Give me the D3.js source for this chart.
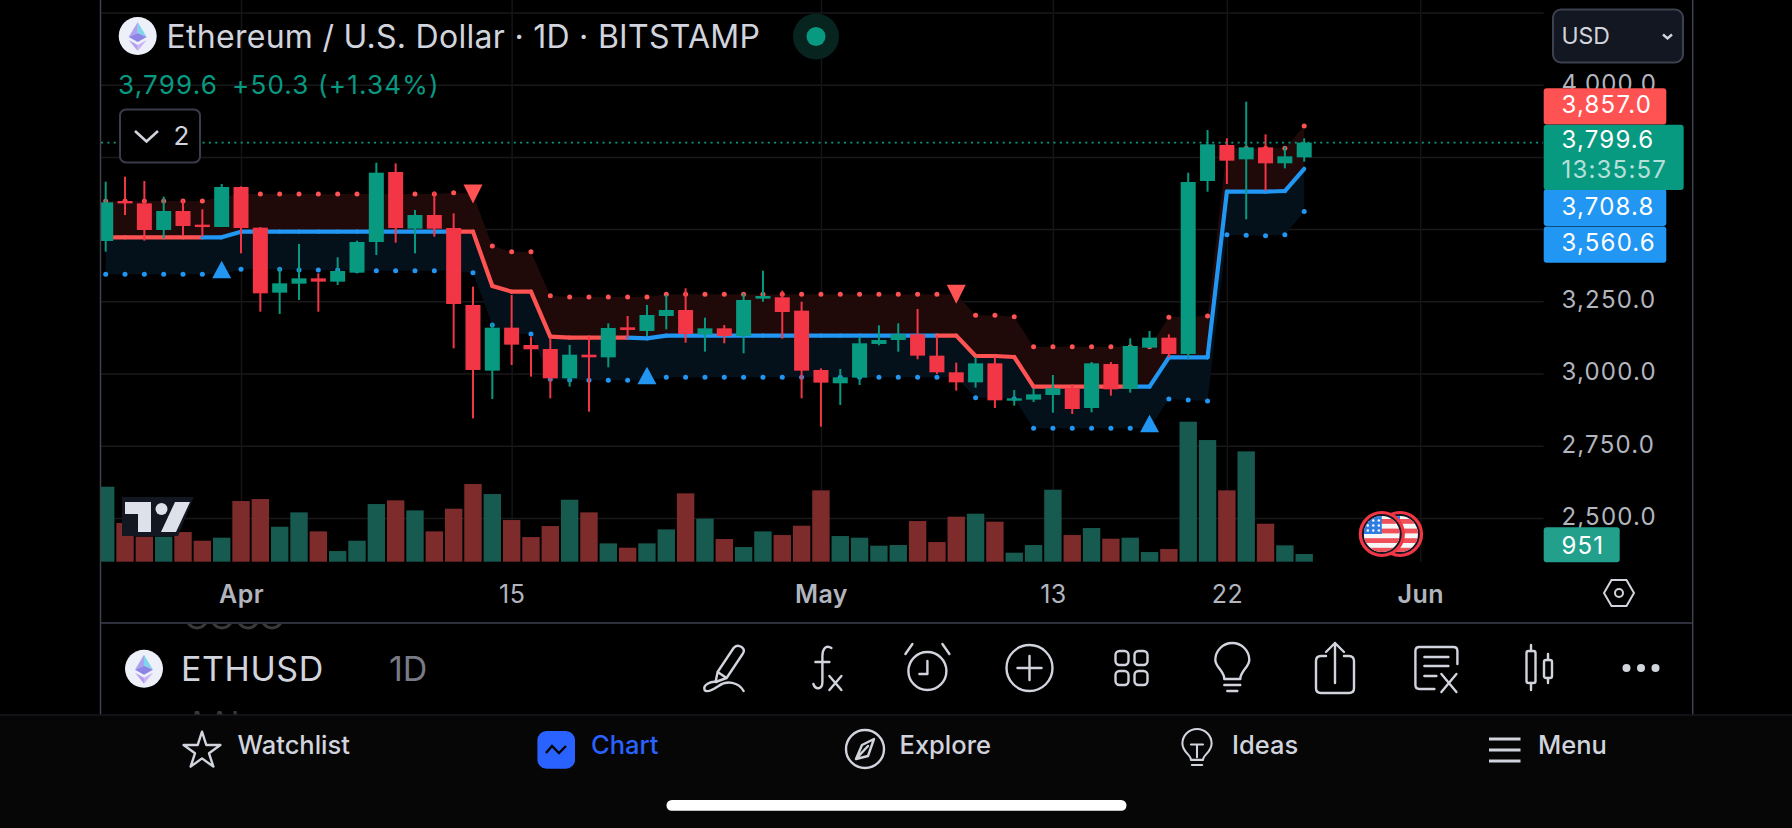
<!DOCTYPE html>
<html>
<head>
    <meta charset="utf-8">
    <style> body { margin: 0; background: #000; overflow: hidden; } text { font-family: Inter, sans-serif; } </style>
    <script src="https://d3js.org/d3.v7.min.js"></script>
</head>
<body>
<div id="chart"></div>
<script>
    // daily candles
    var opens = [3458.8,3597.3,3589.2,3496.9,3562.7,3515.4,3507.3,3645.8,3505,3279.9,3311,3329.5,3318,3349.2,3455.4,3697.7,3501.5,3548.8,3503.8,3237.2,3009.8,3158.7,3098.7,3084.9,2983.3,3065.2,3056,3159.9,3147.2,3199.1,3219.9,3134.5,3156.4,3129.9,3259.2,3263.8,3217.6,3012.2,2966,2985.6,3102.2,3116,3135.7,3061.8,3004.1,2969.4,3035.2,2907.1,2909.4,2925.6,2948.7,2880.6,3032.9,2946.4,3089.5,3124.1,3067.6,3666.5,3791.2,3741.5,3783.1,3727.7,3748.4];
    var highs = [3664.3,3681.6,3666.6,3612.3,3600.8,3568.5,3656.2,3648,3507.3,3366.5,3448.4,3346.9,3402.3,3460,3730,3727.7,3566.2,3629.6,3554.6,3300.7,3173.8,3271.9,3127.6,3121.8,3098.7,3127.6,3173.8,3199.1,3237.2,3271.9,3295,3193.4,3168,3277.6,3356.1,3286.9,3248.8,3017.9,3015.6,3127.6,3166.8,3173.8,3223.4,3131,3037.6,3056,3056,2942.9,2948.7,2994.9,2960.2,3039.9,3039.9,3121.8,3147.2,3135.7,3695.4,3843.1,3814.2,3941.2,3828.1,3785.4,3814.2];
    var lows = [3421.9,3548.8,3460,3466.9,3476.1,3473.8,3507,3416.1,3214.1,3206,3254.5,3214,3306.5,3346.9,3410.3,3453,3416,3473.8,3087.2,2844.8,2911.8,3029.5,2989.1,2914.1,2954.5,2867.9,3021.4,3121.8,3129.9,3153,3106.8,3075.6,3104.5,3069.9,3248.8,3120.7,2914.1,2815.9,2891,2960.2,3097.6,3075.6,3049.1,2998.3,2940.6,2951,2880.6,2888.7,2901.4,2864.4,2859.8,2865.6,2923.3,2933.7,3087.2,3056,3051.4,3629.6,3656.1,3533.8,3633,3710.4,3733.5];
    var closes = [3592.7,3592.7,3496.9,3562.7,3510.8,3509.6,3645.8,3503.8,3277.6,3312.2,3329.5,3318,3354.9,3455.4,3695.4,3503.8,3548.8,3501.5,3240.7,3012.2,3158.7,3099.9,3083.7,2983.3,3065.2,3056,3157.6,3150.7,3202.6,3219.9,3136.8,3156.4,3129.9,3254.5,3268.4,3213,3009.8,2968.3,2986.8,3104.5,3116,3135.7,3061.8,3004.1,2969.4,3035.2,2907.1,2914.1,2927.9,2948.7,2877.1,3035.2,2945.2,3095.3,3124.1,3067.6,3663,3793.5,3736.9,3783.1,3727.7,3751.9,3799.6];
    var volumes = [9263,4776,3088,3088,3664,2594,2964,7493,7740,4323,6093,3746,1317,2594,7122,7575,6340,3746,6546,9593,8357,5146,3047,4405,7658,6093,2264,1729,2264,3993,8440,5311,2800,1811,3746,3294,4446,8810,3170,2964,1976,2058,5023,2429,5558,5928,4940,1112,2058,8893,3294,4158,2841,2964,1194,1564,17291,15027,8810,13627,4693,2017,951];

    // indicator: middle line and the two dotted bands
    var basis = [3471.5,3471.5,3471.5,3471.5,3471.5,3471.5,3471.5,3491.1,3491.1,3491.1,3491.1,3491.1,3491.1,3491.1,3491.1,3491.1,3491.1,3491.1,3491.1,3491.1,3303,3283.4,3283.4,3127.6,3124.1,3124.1,3124.1,3124.1,3121.8,3131,3131,3131,3131,3131,3131,3131,3131,3131,3131,3131,3131,3131,3131,3131,3131,3060.6,3060.6,3057.2,2954.5,2954.5,2954.5,2954.5,2954.5,2954.5,2954.5,3056,3056,3056,3629.6,3629.6,3629.6,3631.9,3708.8];
    var upper = [3597.3,3597.3,3597.3,3597.3,3597.3,3597.3,3612,3621.5,3621.5,3621.5,3621.5,3621.5,3621.5,3621.5,3621.5,3621.5,3621.5,3621.5,3626,3621.5,3441.5,3421.9,3421.9,3269.6,3264.9,3264.9,3264.9,3264.9,3264.9,3274.2,3274.2,3274.2,3274.2,3274.2,3274.2,3274.2,3274.2,3274.2,3274.2,3274.2,3274.2,3274.2,3274.2,3274.2,3274.2,3201.4,3201.4,3196.8,3092.9,3092.9,3092.9,3092.9,3092.9,3092.9,3092.9,3194.5,3197,3199.1,3780,3780,3780,3780,3857];
    var lower = [3343.4,3343.4,3343.4,3343.4,3343.4,3343.4,3343.4,3360.7,3360.7,3360.7,3358.4,3358.4,3358.4,3356.1,3356.1,3356.1,3356.1,3356.1,3356.1,3349.2,3168,3136.8,3136.8,2979.9,2977.5,2976.4,2976.4,2976.4,2976.4,2986.8,2986.8,2986.8,2986.8,2986.8,2986.8,2986.8,2986.8,2986.8,2986.8,2986.8,2986.8,2986.8,2986.8,2986.8,2986.8,2916.4,2916.4,2912.9,2810.2,2810.2,2810.2,2810.2,2810.2,2810.2,2810.2,2911.7,2908.3,2904.8,3480.7,3478.4,3477.2,3480.7,3560.6];
    var downRanges = [[0,5],[19,27],[44,53]];
    var sellSignals = [19,44];
    var buySignals = [6,28,54];

    var xTickIndex = [7,21,37,49,58,68];
    var xTickLabels = ["Apr","15","May","13","22","Jun"];
    var yTicks = [4000,3250,3000,2750,2500];
    var gridTicks = [4250,4000,3750,3500,3250,3000,2750,2500];

    var W = 1792, H = 828;
    var green = "#089981", red = "#f23645", dotRed = "#ff5252", blue = "#2196f3", txt = "#d1d4dc";

    var svg = d3.select("#chart").append("svg")
        .attr("width", W)
        .attr("height", H)
        .style("display", "block");

    svg.append("rect").attr("width", W).attr("height", H).attr("fill", "#000");

    var defs = svg.append("defs");
    defs.append("clipPath").attr("id", "pane").append("rect")
        .attr("x", 101).attr("y", 0).attr("width", 1442.7).attr("height", 562);

    var x = d3.scaleLinear().domain([0, 62]).range([105.7, 1304.2]);
    var y = d3.scaleLinear().domain([2500, 4000]).range([517.9, 84.7]);
    var yVol = d3.scaleLinear().domain([0, d3.max(volumes)]).range([561.7, 421.7]);
    var idx = d3.range(closes.length);

    // grid
    var gy = svg.append("g")
        .attr("transform", "translate(100.5,0)")
        .call(d3.axisRight(y).tickValues(gridTicks).tickSize(1443).tickFormat(""));
    gy.select(".domain").remove();
    gy.selectAll("line").attr("stroke", "#19191b").attr("stroke-width", 1.5);

    var gx = svg.append("g")
        .attr("transform", "translate(0,562)")
        .call(d3.axisTop(x).tickValues(xTickIndex).tickSize(562).tickFormat(""));
    gx.select(".domain").remove();
    gx.selectAll("line").attr("stroke", "#151517").attr("stroke-width", 1.5);

    var plot = svg.append("g").attr("clip-path", "url(#pane)");

    // bands
    plot.append("path").datum(idx)
        .attr("fill", "#1f0909")
        .attr("d", d3.area().x(d => x(d)).y0(d => y(basis[d])).y1(d => y(upper[d])));
    plot.append("path").datum(idx)
        .attr("fill", "#04111b")
        .attr("d", d3.area().x(d => x(d)).y0(d => y(basis[d])).y1(d => y(lower[d])));

    // volume
    plot.append("g").selectAll("rect")
        .data(idx)
        .enter().append("rect")
        .attr("x", d => x(d) - 8.7)
        .attr("width", 17.4)
        .attr("y", d => yVol(volumes[d]))
        .attr("height", d => yVol(0) - yVol(volumes[d]))
        .attr("fill", d => closes[d] >= opens[d] ? "#165a50" : "#7e2b2c");

    // middle line, one colour per trend
    function isDown(i) {
        return downRanges.some(r => i >= r[0] && i <= r[1]);
    }
    plot.append("g").selectAll("line")
        .data(idx.slice(1))
        .enter().append("line")
        .attr("x1", d => x(d - 1))
        .attr("y1", d => y(basis[d - 1]))
        .attr("x2", d => x(d))
        .attr("y2", d => y(basis[d]))
        .attr("stroke", d => isDown(d) ? dotRed : blue)
        .attr("stroke-width", 4.2)
        .attr("stroke-linecap", "round");

    // band dots and signal triangles
    plot.append("g").selectAll("circle")
        .data(idx.filter(i => sellSignals.indexOf(i) < 0))
        .enter().append("circle")
        .attr("cx", d => x(d)).attr("cy", d => y(upper[d])).attr("r", 2.5).attr("fill", dotRed);
    plot.append("g").selectAll("circle")
        .data(idx.filter(i => buySignals.indexOf(i) < 0))
        .enter().append("circle")
        .attr("cx", d => x(d)).attr("cy", d => y(lower[d])).attr("r", 2.5).attr("fill", blue);

    plot.append("g").selectAll("path")
        .data(sellSignals)
        .enter().append("path")
        .attr("d", "M-9.5,-9.5H9.5L0,9.5Z")
        .attr("transform", d => `translate(${x(d)},${y(upper[d])})`)
        .attr("fill", dotRed);
    plot.append("g").selectAll("path")
        .data(buySignals)
        .enter().append("path")
        .attr("d", "M-9.5,4H9.5L0,-13.5Z")
        .attr("transform", d => `translate(${x(d)},${y(lower[d])})`)
        .attr("fill", blue);

    // candles
    var candle = plot.append("g").selectAll("g")
        .data(idx)
        .enter().append("g")
        .attr("fill", d => closes[d] >= opens[d] ? green : red)
        .attr("stroke", d => closes[d] >= opens[d] ? green : red);
    candle.append("line")
        .attr("x1", d => x(d)).attr("x2", d => x(d))
        .attr("y1", d => y(highs[d])).attr("y2", d => y(lows[d]))
        .attr("stroke-width", 2);
    candle.append("rect")
        .attr("stroke", "none")
        .attr("x", d => x(d) - 7.5)
        .attr("width", 15)
        .attr("y", d => y(Math.max(opens[d], closes[d])))
        .attr("height", d => Math.max(2.4, Math.abs(y(opens[d]) - y(closes[d]))));

    // last price line
    svg.append("line")
        .attr("x1", 101).attr("x2", 1543)
        .attr("y1", y(closes[62])).attr("y2", y(closes[62]))
        .attr("stroke", green).attr("stroke-width", 1.8).attr("stroke-dasharray", "2 4.35");

    // axes text
    var axY = svg.append("g")
        .attr("transform", "translate(1561.5,0)")
        .call(d3.axisRight(y).tickValues(yTicks).tickSize(0).tickPadding(0).tickFormat(d3.format(",.1f")));
    axY.select(".domain").remove();
    axY.selectAll("text")
        .attr("fill", "#b2b5be")
        .attr("dy", "0.27em")
        .style("font-size", "24px")
        .style("letter-spacing", "1.2px");

    var axX = svg.append("g")
        .attr("transform", "translate(0,594)")
        .call(d3.axisBottom(x).tickValues(xTickIndex).tickSize(0).tickPadding(0).tickFormat((d, i) => xTickLabels[i]));
    axX.select(".domain").remove();
    axX.selectAll("text")
        .attr("fill", "#b2b5be")
        .attr("dy", "0.35em")
        .style("font-size", "25px")
        .style("letter-spacing", "0.4px")
        .style("font-weight", (d, i) => isNaN(+xTickLabels[i]) ? 600 : 400);

    // price labels on the right
    function priceLabel(x0, x1, y0, y1, fill) {
        svg.append("rect")
            .attr("x", x0).attr("y", y0)
            .attr("width", x1 - x0).attr("height", y1 - y0)
            .attr("rx", 3).attr("fill", fill);
    }
    function labelText(str, cy, op) {
        svg.append("text")
            .attr("x", 1561.5).attr("y", cy).attr("dy", "0.35em")
            .attr("fill", "#fff").attr("opacity", op || 1)
            .style("font-size", "24px").style("letter-spacing", "1.2px")
            .text(str);
    }
    var lastFmt = d3.format(",.1f");
    priceLabel(1543.7, 1666.3, 88.3, 124.5, "#ff5252");
    labelText(lastFmt(upper[62]), 105);
    priceLabel(1543.7, 1666.3, 189, 226, blue);
    labelText(lastFmt(basis[62]), 207);
    priceLabel(1543.7, 1666.3, 226.5, 262.7, blue);
    labelText(lastFmt(lower[62]), 243);
    priceLabel(1543.7, 1683.7, 124.7, 190, green);
    labelText(lastFmt(closes[62]), 140);
    labelText("13:35:57", 170, 0.7);
    priceLabel(1543.7, 1619.7, 527.3, 562.3, "#22a08c");
    labelText(volumes[62], 546);

    // frame
    var frame = svg.append("g").attr("stroke", "#3d4150").attr("stroke-width", 1.5);
    frame.append("line").attr("x1", 100.5).attr("x2", 100.5).attr("y1", 0).attr("y2", 715);
    frame.append("line").attr("x1", 1692.7).attr("x2", 1692.7).attr("y1", 0).attr("y2", 715);
    frame.append("line").attr("x1", 100.5).attr("x2", 1692.7).attr("y1", 623).attr("y2", 623);

    // ethereum coin
    function ethIcon(cx, cy, r) {
        var g = svg.append("g").attr("transform", `translate(${cx},${cy}) scale(${r / 19})`);
        g.append("circle").attr("r", 19).attr("fill", "#eef0f9");
        g.append("path").attr("d", "M0,-14L9,1L0,-3Z").attr("fill", "#7fd6ea");
        g.append("path").attr("d", "M0,-14L-9,1L0,-3Z").attr("fill", "#a9a3ef");
        g.append("path").attr("d", "M-9,1L0,-3L9,1L0,6Z").attr("fill", "#8d84e6");
        g.append("path").attr("d", "M-9,4L0,9L0,15Z").attr("fill", "#b59df0");
        g.append("path").attr("d", "M9,4L0,9L0,15Z").attr("fill", "#c9b4f5");
    }

    // header
    ethIcon(137.7, 36, 19);
    svg.append("text").attr("x", 166.5).attr("y", 48)
        .attr("fill", txt).style("font-size", "32px").style("letter-spacing", "0.28px")
        .text("Ethereum / U.S. Dollar · 1D · BITSTAMP");
    svg.append("circle").attr("cx", 816).attr("cy", 36.5).attr("r", 23).attr("fill", "#07241f");
    svg.append("circle").attr("cx", 816).attr("cy", 36.5).attr("r", 9.5).attr("fill", green);
    svg.append("text").attr("x", 118).attr("y", 93.5)
        .attr("fill", green).style("font-size", "26px").style("letter-spacing", "1.2px")
        .text(lastFmt(closes[62]));
    svg.append("text").attr("x", 232).attr("y", 93.5)
        .attr("fill", green).style("font-size", "26px").style("letter-spacing", "1.2px")
        .text("+50.3 (+1.34%)");

    // collapsed indicators button
    svg.append("rect").attr("x", 120).attr("y", 109.5).attr("width", 80).attr("height", 53).attr("rx", 6)
        .attr("fill", "#000").attr("stroke", "#3a3d47").attr("stroke-width", 2);
    svg.append("path").attr("d", "M135,131L146.5,141.5L158,131").attr("fill", "none")
        .attr("stroke", txt).attr("stroke-width", 2.6);
    svg.append("text").attr("x", 181.5).attr("y", 136).attr("dy", "0.35em").attr("text-anchor", "middle")
        .attr("fill", txt).style("font-size", "26px").text("2");

    // currency button
    svg.append("rect").attr("x", 1553).attr("y", 9.5).attr("width", 130).attr("height", 53).attr("rx", 8)
        .attr("fill", "#131722").attr("stroke", "#3d414d").attr("stroke-width", 2);
    svg.append("text").attr("x", 1561.5).attr("y", 36).attr("dy", "0.35em")
        .attr("fill", txt).style("font-size", "23px").text("USD");
    svg.append("path").attr("d", "M1663,34.5L1667.5,38.5L1672,34.5").attr("fill", "none")
        .attr("stroke", txt).attr("stroke-width", 2.4);

    // tradingview mark
    var tv = svg.append("g");
    tv.append("path").attr("d", "M122,497H193.7L178,536H122Z").attr("fill", "#131722");
    tv.append("path").attr("d", "M125,502H151V532H138V514H125Z").attr("fill", "#dfe1ea");
    tv.append("circle").attr("cx", 161.5).attr("cy", 509).attr("r", 6).attr("fill", "#dfe1ea");
    tv.append("path").attr("d", "M175,502H190L176,532H161Z").attr("fill", "#dfe1ea");

    // economic event flags
    function flag(cx, cy) {
        var id = "f" + Math.round(cx);
        defs.append("clipPath").attr("id", id).append("circle").attr("cx", cx).attr("cy", cy).attr("r", 18);
        var g = svg.append("g");
        g.append("circle").attr("cx", cx).attr("cy", cy).attr("r", 21.5)
            .attr("fill", "#131722").attr("stroke", "#f23645").attr("stroke-width", 3.2);
        var f = g.append("g").attr("clip-path", `url(#${id})`);
        f.append("rect").attr("x", cx - 18).attr("y", cy - 18).attr("width", 36).attr("height", 36).attr("fill", "#f7f7f7");
        d3.range(4).forEach(function(i) {
            f.append("rect").attr("x", cx - 18).attr("y", cy - 15 + i * 9.6).attr("width", 36).attr("height", 4.8).attr("fill", "#f0505a");
        });
        f.append("rect").attr("x", cx - 18).attr("y", cy - 18).attr("width", 18).attr("height", 18).attr("fill", "#2f7de1");
        d3.range(9).forEach(function(i) {
            f.append("circle").attr("cx", cx - 14 + (i % 3) * 5.5).attr("cy", cy - 13.5 + Math.floor(i / 3) * 5)
                .attr("r", 1.2).attr("fill", "#fff");
        });
    }
    flag(1400, 534);
    flag(1381.8, 534);

    // settings
    var set = svg.append("g").attr("transform", "translate(1619,593)")
        .attr("fill", "none").attr("stroke", txt).attr("stroke-width", 2);
    set.append("path").attr("d", "M-15,0L-7.5,-13H7.5L15,0L7.5,13H-7.5Z");
    set.append("circle").attr("r", 4);

    // scrolled content peeking out behind the toolbar
    defs.append("clipPath").attr("id", "ghost1").append("rect").attr("x", 101).attr("y", 624).attr("width", 400).attr("height", 6);
    defs.append("clipPath").attr("id", "ghost2").append("rect").attr("x", 101).attr("y", 704).attr("width", 400).attr("height", 11);
    var ghost = svg.append("g").attr("clip-path", "url(#ghost1)")
        .attr("fill", "none").attr("stroke", "#3a3a3a").attr("stroke-width", 3);
    [197, 222, 248, 272].forEach(function(cx) {
        ghost.append("ellipse").attr("cx", cx).attr("cy", 614).attr("rx", 11.5).attr("ry", 14);
    });
    svg.append("text").attr("x", 186).attr("y", 735).attr("clip-path", "url(#ghost2)")
        .attr("fill", "#3a3a3a").style("font-size", "32px").text("AAL");

    // toolbar
    ethIcon(144, 668.7, 19);
    svg.append("text").attr("x", 181).attr("y", 681).attr("fill", txt)
        .style("font-size", "34px").style("letter-spacing", "0.6px").text("ETHUSD");
    svg.append("text").attr("x", 389).attr("y", 681).attr("fill", "#787b86")
        .style("font-size", "34px").text("1D");

    function icon(cx, cy, sw) {
        return svg.append("g").attr("transform", `translate(${cx},${cy})`)
            .attr("fill", "none").attr("stroke", txt).attr("stroke-width", sw || 2.4)
            .attr("stroke-linecap", "round").attr("stroke-linejoin", "round");
    }
    icon(724.6, 668).append("path")
        .attr("d", "M-9,14L-7,4L9,-20Q12,-24 17,-21Q21,-18 18,-14L2,10ZM-7,4L2,10M-8,14C-14,13 -22,17 -20,22C-18,25 -12,22 -6,18C2,12 14,14 19,23");
    icon(825.4, 668).append("path")
        .attr("d", "M6,-20C0,-24 -3,-18 -3,-12L-3,14C-3,22 -10,22 -12,16M-10,-6L4,-6M4,8L16,22M16,8L4,22");
    var alarm = icon(927.4, 668);
    alarm.append("circle").attr("cy", 3).attr("r", 19);
    alarm.append("path").attr("d", "M0,-7L0,6L-8,6M-22,-14L-15,-24M22,-14L15,-24");
    var plus = icon(1029.5, 668);
    plus.append("circle").attr("r", 23);
    plus.append("path").attr("d", "M-12,0H12M0,-12V12");
    var grid = icon(1131.5, 668);
    [[-16,-17],[3,-17],[-16,3],[3,3]].forEach(function(p) {
        grid.append("rect").attr("x", p[0]).attr("y", p[1]).attr("width", 13).attr("height", 14).attr("rx", 4);
    });
    icon(1232.3, 668).append("path")
        .attr("d", "M-8,11C-8,3 -17,-1 -17,-8A17,17 0 1 1 17,-8C17,-1 8,3 8,11ZM-8,17H8M-5,23H5");
    icon(1335, 668).append("path")
        .attr("d", "M-9,-12H-14Q-19,-12 -19,-7V20Q-19,25 -14,25H14Q19,25 19,20V-7Q19,-12 14,-12H9M0,15V-25M-9,-16L0,-25L9,-16");
    icon(1436.4, 668).append("path")
        .attr("d", "M21,-4V-17Q21,-21 17,-21H-17Q-21,-21 -21,-17V17Q-21,21 -17,21H-2M-12,-11H12M-12,-2H12M-12,8H0M5,6L20,24M20,6L5,24");
    var cs = icon(1541, 668);
    cs.append("rect").attr("x", -14.5).attr("y", -17).attr("width", 9).attr("height", 32).attr("rx", 2);
    cs.append("rect").attr("x", 3).attr("y", -8).attr("width", 8).attr("height", 18).attr("rx", 2);
    cs.append("path").attr("d", "M-10,-23V-17M-10,15V22M7,-14V-8M7,10V15");
    var dots = svg.append("g").attr("transform", "translate(1641,668)").attr("fill", txt);
    [-14.5, 0, 14.5].forEach(d => dots.append("circle").attr("cx", d).attr("r", 4));

    // bottom navigation
    svg.append("rect").attr("y", 715).attr("width", W).attr("height", H - 715).attr("fill", "#060606");
    svg.append("line").attr("x1", 0).attr("x2", W).attr("y1", 715).attr("y2", 715).attr("stroke", "#17181c").attr("stroke-width", 1.5);

    function nav(tx, label, col) {
        svg.append("text").attr("x", tx).attr("y", 754).attr("fill", col || txt)
            .style("font-size", "25.5px").style("font-weight", 500).text(label);
    }
    icon(202, 751, 2.4).append("path").attr("d", d3.symbol(d3.symbolStar, 420)());
    nav(237.5, "Watchlist");

    svg.append("rect").attr("x", 537.4).attr("y", 731).attr("width", 37.6).attr("height", 37.7).attr("rx", 9).attr("fill", "#2962ff");
    svg.append("path").attr("d", "M546,753L552,746L559,753L566,746").attr("fill", "none")
        .attr("stroke", "#060606").attr("stroke-width", 2.4);
    nav(591, "Chart", "#2962ff");

    var comp = icon(865, 749);
    comp.append("circle").attr("r", 19);
    comp.append("path").attr("d", "M9,-10L3,7L-9,10L-3,-4Z M-9,10L3,-3");
    nav(899.5, "Explore");

    var ideas = icon(1197, 747);
    ideas.append("path").attr("transform", "scale(0.86)")
        .attr("d", "M-7,15C-7,9 -17,6 -17,-4A17,17 0 1 1 17,-4C17,6 7,9 7,15ZM-6,21H6M-7,-3H7M0,-3V12");
    nav(1232, "Ideas");

    svg.append("path").attr("d", "M1489,739H1520.5M1489,750H1520.5M1489,761H1520.5").attr("stroke", txt).attr("stroke-width", 3.2);
    nav(1538, "Menu");

    svg.append("rect").attr("x", 666.5).attr("y", 800).attr("width", 460).attr("height", 10.7).attr("rx", 5.3).attr("fill", "#fff");
</script>
</body>
</html>
